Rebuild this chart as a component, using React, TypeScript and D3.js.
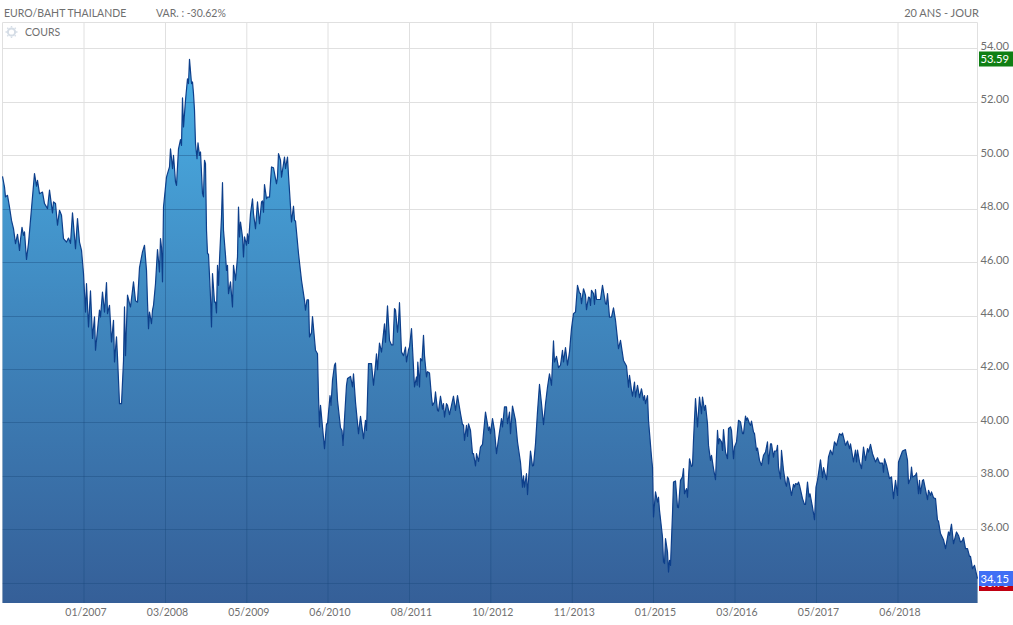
import React from "react";
import * as d3 from "d3";

const WIDTH = 1013;
const HEIGHT = 625;

// [observation index, EUR/THB rate]
const quotes2006: [number, number][] = [[2,49.21],[4,48.81],[5,48.44],[7,48.5],[9,48.06],[11,47.56],[13,47.25],[15,46.69],[17,47.04],[19,46.44],[20,46.84],[21.5,47.3],[23,47.0],[24,47.13],[26,46.1],[28,46.7],[32,48.44],[34,49.31],[36,48.84],[37,49.06],[39,48.56],[42,48.62],[44,48.19],[47,48.0],[49,48.69],[52,47.84],[53,48.25],[55,48.19],[57,47.38],[59,47.94],[61,47.75],[63,46.88],[66,46.75],[68,46.9],[70,46.7],[72,47.84],[75,46.5],[77,47.63],[79,46.75],[81,46.44],[83,45.57]];
const quotes2007: [number, number][] = [[85,44.13],[86,45.19],[88,43.57],[90,44.92],[92,43.14],[94,43.95],[95,42.7],[99,44.2],[100,43.95],[102,44.88],[104,44.13],[106,45.23],[107,44.07],[109,44.38],[111,43.01],[113,43.82],[114,42.26],[116,43.2],[117,42.45],[119,40.7],[121,40.7],[123,42.3],[124,44.32],[125,42.5],[127,44.76],[129,44.45],[130,44.32],[132,44.94],[133,45.26],[135,44.55],[137,44.5],[139,45.79],[142,46.38],[144,46.63],[146,45.69],[147,44.51],[148,43.51],[149,44.13],[151,43.7],[152,44.2],[153,44.38],[155,45.19],[157,46.47],[159,45.63],[160,46.88],[161,46.54],[162,45.26],[163,48.06]];
const quotes2008: [number, number][] = [[166,49.18],[167,49.31],[169,49.56],[170,50.24],[172,49.5],[173,49.99],[175,49.0],[176,48.87],[178,50.24],[180,50.58],[181,50.37],[182,52.15],[183,51.06],[185,52.05],[187,52.86],[188,52.68],[189,53.59],[191,52.68],[192,52.74],[193,52.3],[194,51.68],[195,50.43],[196.5,49.87],[197.5,50.46],[199,49.99],[200,50.12],[202,48.56],[203,48.44],[204,49.81],[205,49.68],[206,47.19],[207,46.32],[208,46.29],[210,44.69],[211,43.57],[212,45.57],[214,44.5],[215,44.5],[216,44.1],[217,45.88],[218,45.13],[219,46.07],[221,47.69],[222,48.97],[223,47.19],[225,46.25],[226,45.69],[227,45.88],[228,44.82],[230,45.26],[232,44.32],[233,45.88],[235,45.32],[237,46.19],[238,48.06],[239,46.94],[240,47.5],[242,46.94],[243,46.19],[244,46.94]];
const quotes2009: [number, number][] = [[246,46.63],[247,47.06],[248,46.7],[250,47.81],[252,48.37],[253,47.81],[255,47.25],[257,48.25],[259,47.44],[261,48.25],[262,48.29],[263,47.87],[264,48.9],[266,48.37],[267,48.43],[269,48.43],[271,49.56],[273,49.53],[275,49.12],[276,48.93],[277,49.18],[278,50.06],[280,49.81],[281,49.18],[284,49.93],[285,49.5],[287,49.93],[288,49.25],[291,47.5],[293,48.09],[294,47.56],[295,47.54],[298,46.32],[301,45.32],[304,44.57],[305,44.2],[306.5,44.59],[308,44.59],[309,43.2],[311,43.36],[312,43.96],[315,42.7],[317,42.57],[318,40.95],[319,39.83],[320,40.64],[322,39.83],[324,39.02],[326,39.95]];
const quotes2010: [number, number][] = [[327,39.95],[329.5,41.0],[330.5,40.64],[332,41.58],[334,42.14],[335,42.22],[337,40.83],[340,39.8],[341.5,39.7],[342.5,39.14],[344,40.14],[346,41.39],[347,41.64],[350,41.72],[352,41.33],[353,41.82],[355,40.76],[358,39.58],[360,40.23],[363,39.39],[365,40.08],[366,39.7],[368,42.2],[371,42.2],[373,41.39],[375,42.14],[376,42.57],[377,41.97],[379,42.97],[381,42.63],[384,43.69],[385,43.0],[387,44.36],[389,43.07],[391,42.9],[392.5,42.9],[394,44.26],[395,44.2],[397,43.38],[398,43.76],[399,44.48],[401,42.63],[403,42.5],[405,42.82],[406,42.26],[408,42.72]];
const quotes2011: [number, number][] = [[409,42.82],[411,43.51],[414,41.33],[416,41.7],[416.7,41.39],[417.3,42.26],[419,41.33],[420,42.39],[421.5,42.3],[423,43.26],[424,42.5],[426,41.7],[427,41.9],[429,41.85],[431,40.95],[432,40.64],[434,40.76],[435,41.14],[437,40.45],[438,40.42],[440,40.98],[442,40.5],[443,40.7],[444,40.2],[446,40.7],[447,40.64],[449,40.29],[453,40.98],[455,40.45],[457,41.0],[460,40.33],[462,39.92],[463,39.9],[464,39.33],[466,39.89],[467,39.48],[468,39.95],[470,39.7],[472,38.83],[473,38.83],[475,38.37],[476,38.83],[478,38.54],[480,39.08],[482,39.18],[485,40.39],[488,39.7],[489,39.83]];
const quotes2012: [number, number][] = [[490,39.58],[492,40.14],[494,39.7],[496,38.83],[499,39.64],[501,40.14],[502,39.83],[504,40.58],[506,40.58],[507,39.95],[509,40.39],[510,39.58],[512,40.61],[515,40.08],[517,39.27],[520,38.5],[522,37.58],[523,38.0],[524,37.58],[526,38.08],[527,37.3],[530,38.93],[532,38.37],[533,38.39],[535,39.2],[537,40.4],[539,41.42],[541,40.7],[543,39.92],[545,40.7],[547,41.32],[549,41.82],[551,41.39],[553,43.05],[554,42.26],[556,42.47],[558,42.05],[560,42.14],[562,42.7],[563,42.26],[565,42.8],[567,42.14],[569,42.64]];
const quotes2013: [number, number][] = [[571,43.51],[573,44.07],[575,44.13],[577,45.13],[579,44.84],[580,44.82],[581,44.44],[583,45.0],[585,44.76],[586,44.22],[588,44.69],[589,44.67],[590,44.38],[591,44.94],[593,44.82],[594,44.42],[595,44.97],[596,44.6],[600,44.6],[602,45.13],[605,44.44],[606,44.42],[607,44.82],[609,43.94],[611,43.94],[613,44.29],[615,43.82],[618,42.76],[620,43.07],[623,42.32],[626,42.11],[628,41.32],[629,41.76],[631,41.2],[632,40.98],[634,41.51],[635,40.95],[637,41.39],[639,40.93],[641,41.26],[643,40.83],[644,41.0],[645,40.7],[647,41.0],[648,40.08],[651,38.7],[652,38.33]];
const quotes2015: [number, number][] = [[653,36.46],[655,37.4],[657,37.02],[658,37.2],[659,36.71],[662,35.71],[663,34.77],[664,34.72],[665,35.65],[667,35.15],[668,34.4],[669,34.84],[670,34.65],[672,36.58],[673,37.77],[675,37.81],[677,36.83],[678,36.81],[680,37.83],[682,37.96],[683,38.27],[684,37.33],[686,37.52],[687,37.2],[689,38.64],[691,38.35],[692,38.39],[693,39.33],[695,40.89],[697,39.83],[699,40.95],[701,40.33],[702,40.95],[704,40.45],[705,40.64],[707,39.95],[708,39.14],[710,38.58],[711,38.77],[713,38.27],[715,37.86],[717,39.7],[718,39.2],[719,39.39],[721,39.27],[722,38.95],[723,39.73],[725,38.89],[727,38.64],[728,39.77],[730,39.83],[731,39.7],[733,38.64]];
const quotes2016: [number, number][] = [[734,39.08],[736,39.27],[738,40.08],[740,40.02],[742,39.58],[743,39.58],[745,40.24],[746,40.08],[747,40.17],[749,39.95],[750,39.89],[751,40.05],[753,39.64],[754,39.58],[756,38.95],[757,39.04],[759,38.58],[761,38.39],[763,38.77],[765,38.89],[767,39.27],[768,38.45],[770,39.2],[771,39.2],[773,38.7],[774,38.93],[776,38.93],[777,39.14],[778,38.33],[780,37.89],[781,38.95],[783,38.21],[785,37.71],[786,37.61],[787,37.96],[788,37.89],[791,37.27],[793,37.68],[794,37.58],[795,37.71],[797,37.68],[798,37.77],[799,37.65],[802,37.15],[804,36.93],[805,36.93],[807,37.77],[808.5,37.21],[809.5,37.33],[812,36.83],[814,36.36]];
const quotes2017: [number, number][] = [[815.5,37.58],[817,37.83],[820,38.6],[822,37.93],[823,38.31],[826,37.86],[828,38.71],[830,38.96],[832,38.79],[834,39.27],[836,39.14],[839,39.58],[841,39.52],[842,39.6],[845,39.14],[847,39.3],[849,39.02],[850,39.2],[853,38.52],[855,38.96],[856,38.52],[857,38.96],[859,38.52],[861,38.27],[863,39.08],[865,38.58],[867,39.02],[868,38.89],[870,39.18],[872,38.83],[875,38.52],[877,38.68],[879,38.48],[882,38.48],[883,38.14],[884,38.64],[886,38.4],[889,37.9],[891,37.96],[893,37.15],[895,37.83],[897,37.27]];
const quotes2018: [number, number][] = [[898,38.52],[902,38.93],[905,38.98],[907,38.58],[908,37.71],[910,37.9],[911,38.33],[912,37.96],[915,38.02],[916,38.11],[918,37.33],[919,37.83],[920,37.33],[922,37.83],[923,37.86],[927,37.11],[928,37.46],[930,37.27],[931,37.4],[933,37.18],[935,37.15],[937,36.34],[938,36.3],[940,35.84],[943,35.61],[945,35.28],[948,35.9],[949,35.77],[951,36.19],[953,35.46],[956,35.9],[958,35.77],[960,35.52],[962,35.58],[963,35.69],[965,35.28],[967,35.28],[969,34.99],[970,34.99],[972,34.53],[974,34.65],[977,34.15]];

const quotes = [...quotes2006, ...quotes2007, ...quotes2008, ...quotes2009, ...quotes2010, ...quotes2011, ...quotes2012, ...quotes2013, ...quotes2015, ...quotes2016, ...quotes2017, ...quotes2018];

const yTicks = [34, 36, 38, 40, 42, 44, 46, 48, 50, 52, 54];
const xTickIndex = [83.5, 165, 246.3, 327.5, 409, 490.3, 571.8, 653, 734.5, 816, 897.5];
const xTickLabels = ["01/2007", "03/2008", "05/2009", "06/2010", "08/2011", "10/2012", "11/2013", "01/2015", "03/2016", "05/2017", "06/2018"];

const TITLE = "EURO/BAHT THAILANDE";
const VARIATION = "VAR. : -30.62%";
const PERIOD = "20 ANS - JOUR";
const SERIES = "COURS";
const HIGH = 53.59;
const LAST = 34.15;
const LOW_HIDDEN = 33.96;

const left = 2.5, right = 977.5, top = 22.5, bottom = 603;
const x = d3.scaleLinear().domain([2, 977]).range([left, right]);
const y = d3.scaleLinear().domain([54, 36]).range([48.3, 529.3]);
const base = y.invert(bottom);

const area = d3.area<[number, number]>().x(d => x(d[0])).y0(y(base)).y1(d => y(d[1]));
const line = d3.line<[number, number]>().x(d => x(d[0])).y(d => y(d[1]));

const font = "Lato, 'Open Sans', sans-serif";
const grey = "#6f6f6f";
const gridColor = "#e0e0e0";
const gear = d3.range(8).map(i => (i * 45 * Math.PI) / 180);

function ValueBox({ v, fill, yc, h, ty }: { v: number; fill: string; yc: number; h: number; ty: number }) {
  return (
    <g>
      <rect x={979} y={yc - h / 2} width={34} height={h} fill={fill} />
      <text x={1009} y={ty} textAnchor="end" fontFamily={font} fontSize={11.2} fill="#fff">{v.toFixed(2)}</text>
    </g>
  );
}

export default function App() {
  const gridLines = (stroke: string) => (
    <g stroke={stroke} strokeWidth={1} fill="none">
      {yTicks.map(t => <line key={t} x1={left} x2={right} y1={Math.round(y(t)) + 0.5} y2={Math.round(y(t)) + 0.5} />)}
      {xTickIndex.map(t => <line key={t} x1={x(t)} x2={x(t)} y1={top} y2={bottom} />)}
    </g>
  );
  return (
    <svg width={WIDTH} height={HEIGHT} style={{ position: "absolute", left: 0, top: 0, background: "#fff" }}>
      <defs>
        <linearGradient id="fill" gradientUnits="userSpaceOnUse" x1={0} x2={0} y1={y(53.59)} y2={bottom}>
          <stop offset="0" stopColor="#4ab0e6" />
          <stop offset="0.45" stopColor="#4089c0" />
          <stop offset="1" stopColor="#355f98" />
        </linearGradient>
        <clipPath id="under"><path d={area(quotes) ?? ""} /></clipPath>
      </defs>

      <g stroke={gridColor} strokeWidth={1}>
        <line x1={left} x2={right} y1={top} y2={top} />
        <line x1={left} x2={left} y1={top} y2={bottom} />
        <line x1={right} x2={right} y1={top} y2={bottom} />
      </g>
      {gridLines(gridColor)}

      <path d={area(quotes) ?? ""} fill="url(#fill)" />
      <g clipPath="url(#under)">{gridLines("rgba(24,70,120,0.38)")}</g>
      <path d={line(quotes) ?? ""} fill="none" stroke="#0d3f8b" strokeWidth={1.2} strokeLinejoin="round" />

      <g fontFamily={font} fontSize={10.5} fill={grey}>
        <text x={4} y={17}>{TITLE}</text>
        <text x={156} y={17}>{VARIATION}</text>
        <text x={979} y={17} textAnchor="end" fontSize={11}>{PERIOD}</text>
        <text x={25} y={36}>{SERIES}</text>
      </g>

      <g stroke="#d5dde6" fill="none">
        <circle cx={11.5} cy={32} r={3.6} strokeWidth={2} />
        {gear.map((a, i) => (
          <line key={i} x1={11.5 + 4.5 * Math.cos(a)} y1={32 + 4.5 * Math.sin(a)} x2={11.5 + 6 * Math.cos(a)} y2={32 + 6 * Math.sin(a)} strokeWidth={1.5} />
        ))}
      </g>

      <g fontFamily={font} fontSize={11.2} fill={grey}>
        {yTicks.filter(t => t > 34).map(t => (
          <text key={t} x={1009} y={y(t) + 1.5} textAnchor="end">{t.toFixed(2)}</text>
        ))}
        {xTickLabels.map((l, i) => (
          <text key={l} x={x(xTickIndex[i]) + 2} y={616} textAnchor="middle" fontSize={10.5}>{l}</text>
        ))}
      </g>

      <ValueBox v={HIGH} fill="#0f7f14" yc={59} h={15} ty={63} />
      <ValueBox v={LOW_HIDDEN} fill="#c00012" yc={584} h={14} ty={587} />
      <ValueBox v={LAST} fill="#3f6ff5" yc={578.5} h={15} ty={582.5} />
    </svg>
  );
}
